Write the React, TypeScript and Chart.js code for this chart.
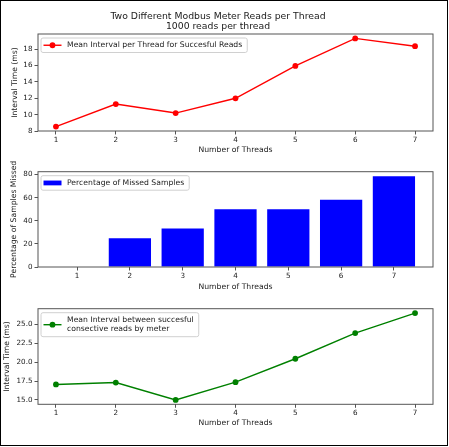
import { useEffect, useRef } from "react";
import { Chart, registerables } from "chart.js";

Chart.register(...registerables);
Chart.defaults.font.family = "'DejaVu Sans', sans-serif";
Chart.defaults.color = "#1a1a1a";

// data
const threads = [1, 2, 3, 4, 5, 6, 7];
const meanInterval = [8.55, 11.3, 10.2, 12.0, 15.95, 19.3, 18.35];
const missedPct = [0, 25, 33.3, 50, 50, 58.3, 78.6];
const meterInterval = [17.05, 17.3, 15.0, 17.35, 20.45, 23.85, 26.5];

const intervalTicks = [8, 10, 12, 14, 16, 18];
const missedTicks = [0, 20, 40, 60, 80];
const meterTicks = [15.0, 17.5, 20.0, 22.5, 25.0];

const titleLines = ["Two Different Modbus Meter Reads per Thread", "1000 reads per thread"];
const xLabel = "Number of Threads";

// matplotlib-like 5% margins
const pad = (vals: number[]) => {
  const lo = Math.min(...vals);
  const hi = Math.max(...vals);
  const m = (hi - lo) * 0.05;
  return [lo - m, hi + m];
};

// spines on four sides + a matplotlib style legend box
const mplBox = {
  id: "mplBox",
  afterDraw(chart: any) {
    const { ctx, chartArea: a } = chart;
    ctx.save();
    ctx.strokeStyle = "#555";
    ctx.lineWidth = 1;
    ctx.strokeRect(a.left, a.top, a.right - a.left, a.bottom - a.top);

    const ds = chart.data.datasets[0];
    const lines = String(ds.label).split("\n");
    ctx.font = "7.7px 'DejaVu Sans', sans-serif";
    const lh = 9.5;
    const tw = Math.max(...lines.map((l: string) => ctx.measureText(l).width));
    const x = a.left + 3;
    const y = a.top + 4;
    const bw = 26 + tw + 5;
    const bh = lines.length * lh + 5;
    ctx.beginPath();
    ctx.roundRect(x, y, bw, bh, 2);
    ctx.fillStyle = "rgba(255,255,255,0.8)";
    ctx.fill();
    ctx.strokeStyle = "#d0d0d0";
    ctx.stroke();

    const cy = y + bh / 2;
    if (chart.config.type === "bar") {
      ctx.fillStyle = ds.backgroundColor;
      ctx.fillRect(x + 2.5, cy - 2.4, 18, 4.8);
    } else {
      ctx.strokeStyle = ds.borderColor;
      ctx.lineWidth = 1.4;
      ctx.beginPath();
      ctx.moveTo(x + 2.5, cy);
      ctx.lineTo(x + 20.5, cy);
      ctx.stroke();
      ctx.fillStyle = ds.borderColor;
      ctx.beginPath();
      ctx.arc(x + 11.5, cy, 2.9, 0, Math.PI * 2);
      ctx.fill();
    }
    ctx.fillStyle = "#1a1a1a";
    ctx.textBaseline = "middle";
    lines.forEach((l: string, i: number) => {
      ctx.fillText(l, x + 26, y + 2.5 + lh * (i + 0.5));
    });
    ctx.restore();
  },
};

type PanelCfg = {
  type: "line" | "bar";
  label: string;
  values: number[];
  color: string;
  yTitle: string;
  yTicks: number[];
  yRange: number[];
  xRange: number[];
  decimals: number;
  height: number;
  padLeft: number;
  padTop: number;
  xAxisH: number;
  xTitlePad: number;
  yTitlePad: number;
  title?: string[];
};

const makeConfig = (p: PanelCfg): any => ({
  type: p.type,
  data: {
    datasets: [
      {
        label: p.label,
        data: threads.map((t, i) => ({ x: t, y: p.values[i] })),
        borderColor: p.color,
        backgroundColor: p.color,
        borderWidth: p.type === "line" ? 1.4 : 0,
        pointRadius: 2.9,
        pointBackgroundColor: p.color,
        pointBorderWidth: 0,
        barPercentage: 0.8,
        categoryPercentage: 1.0,
      },
    ],
  },
  options: {
    responsive: false,
    maintainAspectRatio: false,
    animation: false,
    layout: { padding: { left: p.padLeft, right: 16, top: p.padTop, bottom: 0 } },
    plugins: {
      legend: { display: false },
      tooltip: { enabled: false },
      title: p.title
        ? {
            display: true,
            text: p.title,
            color: "#1a1a1a",
            font: { size: 9.3, weight: "normal", lineHeight: "10px" },
            padding: { top: 12, bottom: 2 },
          }
        : { display: false },
    },
    scales: {
      x: {
        type: "linear",
        offset: false,
        min: p.xRange[0],
        max: p.xRange[1],
        afterBuildTicks: (s: any) => {
          s.ticks = threads.map((v) => ({ value: v }));
        },
        afterFit: (s: any) => {
          s.height = p.xAxisH;
        },
        ticks: { font: { size: 7.2 }, padding: 1, maxRotation: 0 },
        grid: {
          offset: false,
          drawOnChartArea: false,
          drawTicks: true,
          tickLength: 3.5,
          color: "#555",
        },
        border: { display: false },
        title: {
          display: true,
          text: xLabel,
          font: { size: 7.7, lineHeight: 1.2 },
          padding: { top: 0, bottom: p.xTitlePad },
        },
      },
      y: {
        type: "linear",
        min: p.yRange[0],
        max: p.yRange[1],
        afterBuildTicks: (s: any) => {
          s.ticks = p.yTicks.map((v) => ({ value: v }));
        },
        afterFit: (s: any) => {
          s.width = 38 - p.padLeft;
        },
        ticks: {
          font: { size: 7.2 },
          padding: 2,
          callback: (v: any) => Number(v).toFixed(p.decimals),
        },
        grid: { drawOnChartArea: false, drawTicks: true, tickLength: 3.5, color: "#555" },
        border: { display: false },
        title: {
          display: true,
          text: p.yTitle,
          font: { size: 7.7, lineHeight: 1.2 },
          padding: { top: p.yTitlePad, bottom: 0 },
        },
      },
    },
  },
  plugins: [mplBox],
});

const panels: PanelCfg[] = [
  {
    type: "line",
    label: "Mean Interval per Thread for Succesful Reads",
    values: meanInterval,
    color: "#ff0000",
    yTitle: "Interval Time (ms)",
    yTicks: intervalTicks,
    yRange: pad(meanInterval),
    xRange: [0.7, 7.3],
    decimals: 0,
    height: 158,
    padLeft: 3,
    padTop: 0,
    xAxisH: 27,
    xTitlePad: 3.7,
    yTitlePad: 7.2,
    title: titleLines,
  },
  {
    type: "bar",
    label: "Percentage of Missed Samples",
    values: missedPct,
    color: "#0000ff",
    yTitle: "Percentage of Samples Missed",
    yTicks: missedTicks,
    yRange: [0, Math.max(...missedPct) * 1.05],
    xRange: [0.26, 7.74],
    decimals: 0,
    height: 137,
    padLeft: 3,
    padTop: 13.7,
    xAxisH: 28,
    xTitlePad: 3.5,
    yTitlePad: 6.7,
  },
  {
    type: "line",
    label: "Mean Interval between succesful\nconsective reads by meter",
    values: meterInterval,
    color: "#008000",
    yTitle: "Interval Time (ms)",
    yTicks: meterTicks,
    yRange: pad(meterInterval),
    xRange: [0.7, 7.3],
    decimals: 1,
    height: 140,
    padLeft: 0,
    padTop: 13.7,
    xAxisH: 30.7,
    xTitlePad: 6.9,
    yTitlePad: 2.2,
  },
];

const tops = [0, 158, 295];

const Panel = ({ cfg, top }: { cfg: PanelCfg; top: number }) => {
  const ref = useRef<HTMLCanvasElement>(null);
  const chartRef = useRef<Chart>();

  useEffect(() => {
    if (!ref.current) return;
    if (chartRef.current) chartRef.current.destroy();
    chartRef.current = new Chart(ref.current, makeConfig(cfg));
    return () => {
      if (chartRef.current) chartRef.current.destroy();
    };
  }, [cfg]);

  return (
    <canvas
      ref={ref}
      width={449}
      height={cfg.height}
      style={{ position: "absolute", left: 0, top, width: 449, height: cfg.height }}
    ></canvas>
  );
};

const App = () => {
  return (
    <div
      style={{
        position: "absolute",
        left: 0,
        top: 0,
        width: 449,
        height: 447,
        background: "#fff",
        overflow: "hidden",
      }}
    >
      {panels.map((p, i) => (
        <Panel key={i} cfg={p} top={tops[i]} />
      ))}
      <div
        style={{
          position: "absolute",
          left: 0,
          top: 0,
          width: 448,
          height: 446,
          border: "1.5px solid #000",
          boxSizing: "border-box",
          pointerEvents: "none",
        }}
      ></div>
    </div>
  );
};

export default App;
